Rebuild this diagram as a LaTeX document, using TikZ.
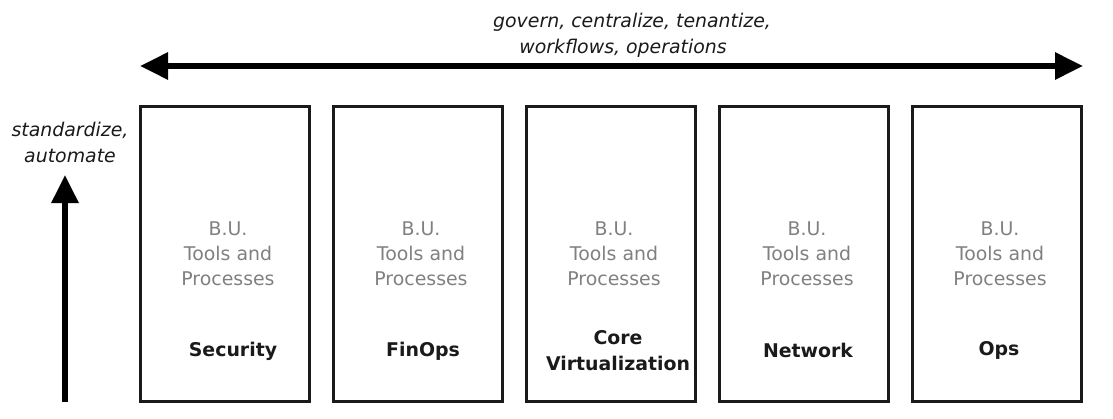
\documentclass[tikz,border=0pt]{standalone}
\usepackage{fontspec}
\setmainfont{DejaVu Sans}
\usetikzlibrary{arrows.meta}
\definecolor{ink}{HTML}{1A1A1A}
\definecolor{greytext}{HTML}{808080}
\begin{document}
\begin{tikzpicture}[x=1pt,y=-1pt,
  bubox/.style={draw=ink, line width=3pt, minimum width=169pt, minimum height=295pt, inner sep=0pt},
  graytext/.style={text=greytext, font=\fontsize{18.9}{25}\selectfont, align=center, inner sep=0pt},
  lbl/.style={text=ink, font=\fontsize{18.9}{26}\selectfont\bfseries, align=center, inner sep=0pt},
  note/.style={text=ink, font=\fontsize{18.9}{26}\selectfont\itshape, align=center, inner sep=0pt},
  bigarrow/.style={line width=6pt, draw=black, -{Triangle[length=28pt,width=26pt]}},
  dblarrow/.style={line width=6pt, draw=black, {Triangle[length=28pt,width=26pt]}-{Triangle[length=28pt,width=26pt]}}
]
\useasboundingbox (0,0) rectangle (1113,418);
% top note and double arrow
\node[note] (top) at (632,35) {govern, centralize, tenantize,\\workflows, operations\hspace*{18pt}};
\coordinate (hl) at (140,66);
\coordinate (hr) at (1083,66);
\draw[dblarrow] (hl) -- (hr);
% left note and vertical arrow
\node[note] (left) at (70,142) {standardize,\\automate};
\coordinate (vb) at (65,402);
\coordinate (vt) at (65,175);
\draw[bigarrow] (vb) -- (vt);
% boxes
\foreach \i/\nm/\lx/\ly/\lab in {0/sec/233/351/Security,1/fin/423/351/FinOps,2/core/618/351/{Core\\Virtualization},3/net/808/350/Network,4/ops/999/350/Ops}{
  \node[bubox] (\nm) at (225+193*\i,254) {};
  \node[graytext] (\nm-bu) at (228+193*\i,254) {B.U.\\Tools and\\Processes};
  \node[lbl] (\nm-lbl) at (\lx,\ly) {\lab};
}
\end{tikzpicture}
\end{document}
